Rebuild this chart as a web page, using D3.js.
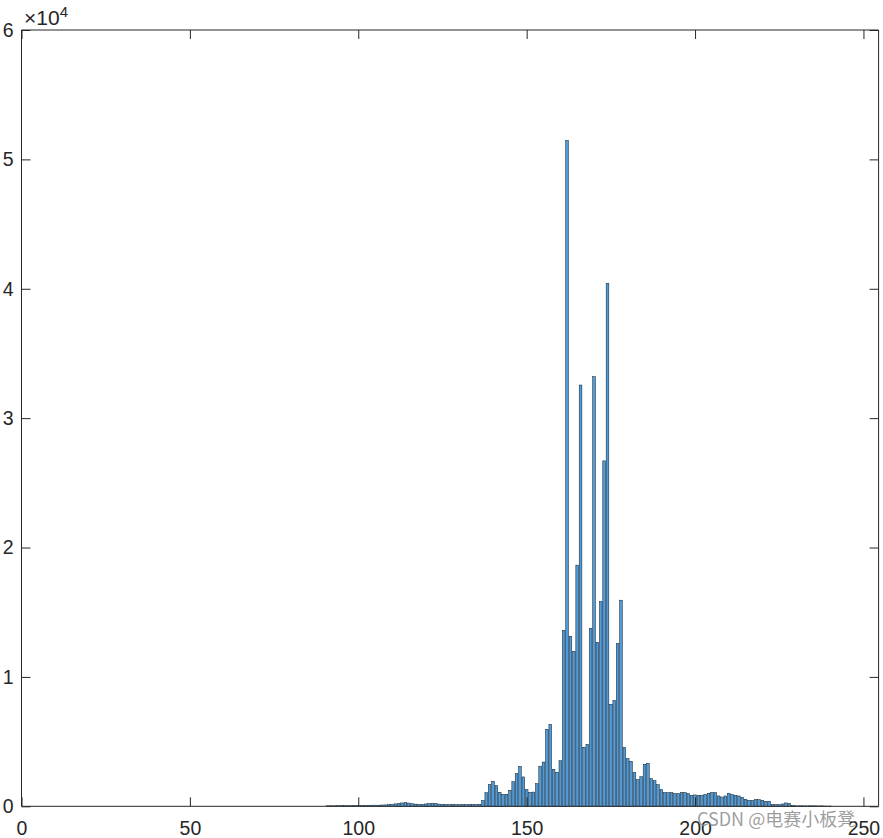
<!DOCTYPE html>
<html>
<head>
<meta charset="utf-8">
<script src="https://cdn.jsdelivr.net/npm/d3@7"></script>
<style>
  html, body { margin: 0; padding: 0; background: #fff; }
  svg { display: block; }
</style>
</head>
<body>
<svg id="chart" width="883" height="838"></svg>
<script>
// ---- data (histogram counts for bins 91..240; all other bins are zero) ----
const firstBin = 91;
const counts = [
  40, 45, 40, 50, 45, 50, 55, 50, 60,                 // 91-99
  70, 65, 75, 80, 85, 90, 85, 100, 110, 120,           // 100-109
  150, 190, 220, 260, 280, 250, 200, 170, 150, 160,    // 110-119
  180, 220, 240, 210, 170, 150, 140, 130, 140, 130,    // 120-129
  120, 130, 140, 130, 140, 150, 160, 440, 1060, 1675,  // 130-139
  1930, 1600, 1080, 930, 930, 1240, 1900, 2525, 3090, 2270, // 140-149
  1290, 1080, 1100, 1750, 3100, 3420, 5950, 6340, 2860, 2630, // 150-159
  3530, 13600, 51450, 13140, 11980, 18640, 32560, 4560, 4790, 13760, // 160-169
  33200, 12680, 15820, 26700, 40420, 7880, 8190, 12570, 15930, 4560, // 170-179
  3680, 3480, 2600, 2060, 2290, 3250, 3320, 2140, 1980, 1670, // 180-189
  1290, 1060, 1060, 1060, 980, 980, 1060, 1060, 980, 850,     // 190-199
  880, 850, 850, 920, 1010, 1060, 1060, 800, 720, 800,        // 200-209
  1010, 920, 850, 800, 690, 540, 460, 460, 515, 515,          // 210-219
  460, 390, 390, 130, 130, 130, 180, 260, 210, 60,            // 220-229
  40, 40, 40, 40, 40, 40, 40, 30, 30, 20, 20                  // 230-240
];
const xTicks = [0, 50, 100, 150, 200, 250];
const yTicks = [0, 10000, 20000, 30000, 40000, 50000, 60000];
const yTickLabels = ["0", "1", "2", "3", "4", "5", "6"];
const xDomain = [0, 254.5];
const yDomain = [0, 60000];
const watermark = "CSDN @电赛小板凳";

// ---- layout ----
const L = 21.5, R = 878.6, T = 30, B = 806.3;
const ink = "#262626";
const font = "'Liberation Sans', Arial, Helvetica, sans-serif";

const svg = d3.select("#chart");
const x = d3.scaleLinear().domain(xDomain).range([L, R]);
const y = d3.scaleLinear().domain(yDomain).range([B, T]);

const data = counts.map((c, i) => ({ bin: firstBin + i, count: c }));
const barW = (x(0.8) - x(0));

// bars
svg.append("g").selectAll("rect")
  .data(data)
  .join("rect")
  .attr("x", d => x(d.bin) - barW / 2)
  .attr("y", d => y(d.count))
  .attr("width", barW)
  .attr("height", d => y(0) - y(d.count))
  .attr("fill", "#4f9ad8")
  .attr("stroke", "#101c26")
  .attr("stroke-width", 0.5);

// axes: ticks pointing inward
const tickLen = 9;
const xAxisB = d3.axisBottom(x).tickValues(xTicks).tickSize(-tickLen).tickPadding(15);
const xAxisT = d3.axisTop(x).tickValues(xTicks).tickSize(-tickLen).tickFormat("");
const yAxisL = d3.axisLeft(y).tickValues(yTicks).tickSize(-tickLen).tickPadding(8)
  .tickFormat((d, i) => yTickLabels[i]);
const yAxisR = d3.axisRight(y).tickValues(yTicks).tickSize(-tickLen).tickFormat("");

function style(g) {
  g.selectAll("path").attr("stroke", ink).attr("stroke-width", 1);
  g.selectAll("line").attr("stroke", ink).attr("stroke-width", 1);
  g.selectAll("text").attr("fill", ink).style("font-family", font).style("font-size", "19.5px");
}

svg.append("g").attr("transform", `translate(0,${B})`).call(xAxisB).call(style)
  .call(g => g.select(".domain").attr("d", `M${L},0H${R}`));
svg.append("g").attr("transform", `translate(0,${T})`).call(xAxisT).call(style)
  .call(g => g.select(".domain").attr("d", `M${L},0H${R}`));
svg.append("g").attr("transform", `translate(${L},0)`).call(yAxisL).call(style)
  .call(g => g.select(".domain").attr("d", `M0,${B}V${T}`));
svg.append("g").attr("transform", `translate(${R},0)`).call(yAxisR).call(style)
  .call(g => g.select(".domain").attr("d", `M0,${B}V${T}`));

// exponent label
const expo = svg.append("text")
  .attr("x", 24).attr("y", 25)
  .attr("fill", ink)
  .style("font-family", font).style("font-size", "21px");
expo.append("tspan").text("×10");
expo.append("tspan").attr("dy", -8.5).style("font-size", "15px").text("4");

// watermark
svg.append("text")
  .attr("x", 697).attr("y", 826)
  .attr("fill", "#8c8c8c")
  .attr("fill-opacity", 0.85)
  .style("font-family", "'Noto Sans CJK SC', 'Liberation Sans', sans-serif")
  .style("font-size", "18px")
  .text(watermark);
</script>
</body>
</html>
